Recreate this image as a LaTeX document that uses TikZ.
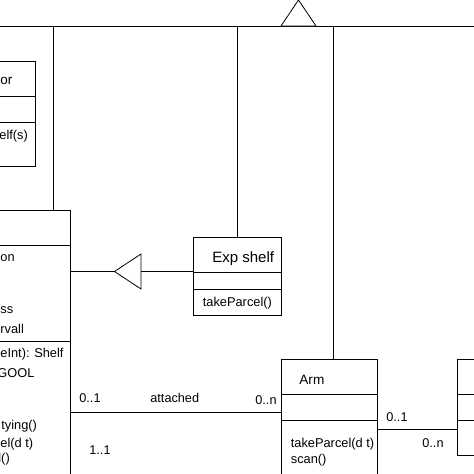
\documentclass[tikz,border=0pt]{standalone}
\usepackage{fontspec}
\setmainfont{Liberation Sans}
\usetikzlibrary{positioning, calc}

\begin{document}
\begin{tikzpicture}[
    x=1pt, y=-1pt,
    line width=0.8pt,
    cls/.style={rectangle, draw, anchor=north west, inner sep=0pt},
    member/.style={anchor=west, inner sep=0pt, font=\fontsize{12.8}{15}\selectfont},
    title/.style={anchor=west, inner sep=0pt, font=\fontsize{15}{17}\selectfont},
    mult/.style={anchor=west, inner sep=0pt, font=\fontsize{12.7}{15}\selectfont},
    genhead/.style={draw, fill=white, line join=miter}
]
    \useasboundingbox (0,0) rectangle (474,474);
    \clip (0,0) rectangle (474,474);

    % Class boxes
    \node (ctrl) [cls, minimum width=80pt, minimum height=105pt] at (-45,61) {};
    \node (store) [cls, minimum width=140pt, minimum height=263.5pt] at (-70,210) {};
    \node (exp) [cls, minimum width=88pt, minimum height=78pt] at (193,237) {};
    \node (arm) [cls, minimum width=96pt, minimum height=114.5pt] at (281,359) {};
    \node (slot) [cls, minimum width=60pt, minimum height=96pt] at (456.5,359) {};

    % Compartment lines
    \foreach \n/\a/\b in {ctrl/35/61, store/35/131, exp/35/52, arm/35/61, slot/35/61} {
        \draw ($(\n.north west)+(0,\a)$) -- ($(\n.north east)+(0,\a)$);
        \draw ($(\n.north west)+(0,\b)$) -- ($(\n.north east)+(0,\b)$);
    }

    % Texts
    \node (ctrlname) [title, font=\fontsize{13.5}{16}\selectfont] at (0,81) {or};
    \node (ctrlop) [member] at (-1,136) {elf(s)};

    \node (st1) [member] at (0,258) {on};
    \node (st2) [member] at (0,310) {ss};
    \node (st3) [member] at (0,329) {rvall};
    \node (st4) [member] at (0,354) {eInt): Shelf};
    \node (st5) [member] at (-3,373) {GOOL};
    \node (st6) [member] at (1,426) {tying()};
    \node (st7) [member] at (0,444) {el(d t)};
    \node (st8) [member] at (-2,459) {l()};

    \node (expname) [title] at (212,258.5) {Exp shelf};
    \node (expop) [member] at (202.5,303) {takeParcel()};

    \node (armname) [title, font=\fontsize{13.6}{16}\selectfont] at (299,380) {Arm};
    \node (armop1) [member] at (290.5,444) {takeParcel(d t)};
    \node (armop2) [member] at (290.5,460) {scan()};

    % Inheritance bus at the top
    \coordinate (busL) at (0,26);
    \coordinate (busR) at (474,26);
    \coordinate (up) at (298.5,0);
    \draw (busL) -- (busR);
    \draw[genhead] ($(up)+(-17.5,26)$) -- (up) -- ($(up)+(17.5,26)$) -- cycle;
    \foreach \x/\n in {53/store, 237/exp, 333/arm} {
        \coordinate (j\n) at (\x,26);
        \draw (j\n) -- (j\n |- \n.north);
    }

    % Exp shelf specialises the left class
    \coordinate (g) at (114.5,271.5);
    \draw (exp.west |- g) -- ($(g)+(26.5,0)$);
    \draw[genhead] (g) -- ++(26.5,-17.5) -- ++(0,35) -- cycle;
    \draw (g) -- (store.east |- g);

    % Associations
    \coordinate (lvlA) at (0,412);
    \coordinate (lvlB) at (0,429);
    \draw (store.east |- lvlA) -- (arm.west |- lvlA);
    \draw (arm.east |- lvlB) -- (slot.west |- lvlB);

    \node (m1) [mult] at (79,398) {0..1};
    \node (att) [mult] at (150,398) {attached};
    \node (m2) [mult] at (255,400) {0..n};
    \node (m3) [mult] at (89,450) {1..1};
    \node (m4) [mult] at (386,417) {0..1};
    \node (m5) [mult] at (422,443) {0..n};
\end{tikzpicture}
\end{document}
